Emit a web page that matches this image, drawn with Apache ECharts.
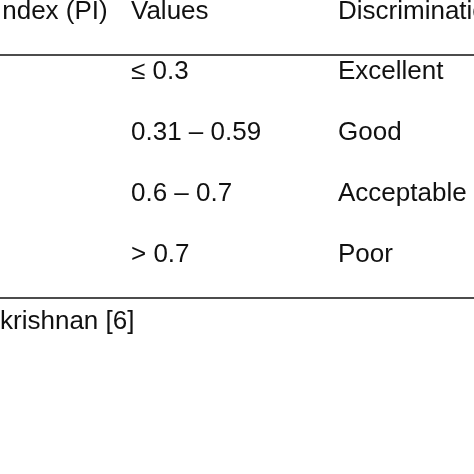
<!DOCTYPE html>
<html>
<head>
<meta charset="utf-8">
<script src="https://cdn.jsdelivr.net/npm/echarts@6/dist/echarts.min.js"></script>
<style>html,body{margin:0;padding:0;background:#fff}#chart{width:474px;height:474px}</style>
</head>
<body>
<div id="chart"></div>
<script>
const headers = ['Index (PI)', 'Values', 'Discrimination']
const values = ['\u2264 0.3', '0.31 \u2013 0.59', '0.6 \u2013 0.7', '> 0.7']
const labels = ['Excellent', 'Good', 'Acceptable', 'Poor']
const footnote = 'Balakrishnan [6]'

let chart = echarts.init(document.getElementById('chart'))
const font = '26px "Liberation Sans", Arial, sans-serif'
const colX = [-5, 131, 338]
const rowY = [72, 133, 194, 255]

function txt(s, x, y) {
    return { type: 'text', x: x, y: y, style: { text: s, font: font, fill: '#111', textVerticalAlign: 'middle' } }
}

let els = []
headers.forEach((h, i) => els.push(txt(h, colX[i], 12)))
values.forEach((v, i) => {
    els.push(txt(v, colX[1], rowY[i]))
    els.push(txt(labels[i], colX[2], rowY[i]))
})
els.push(txt(footnote, -52, 322))
els.push({ type: 'line', shape: { x1: 0, y1: 55, x2: 474, y2: 55 }, style: { stroke: '#111', lineWidth: 1.5 } })
els.push({ type: 'line', shape: { x1: 0, y1: 298, x2: 474, y2: 298 }, style: { stroke: '#111', lineWidth: 1.5 } })

chart.setOption({ animation: false, graphic: els })
</script>
</body>
</html>
